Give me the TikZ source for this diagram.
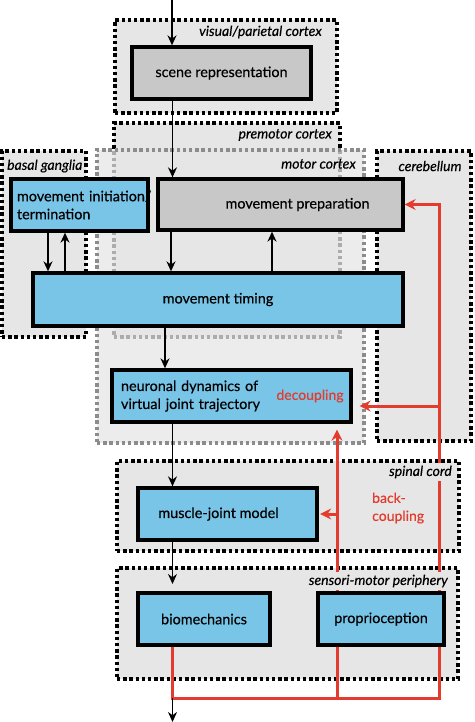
\documentclass[tikz,border=0pt]{standalone}
\usepackage{fontspec}
\setmainfont{Lato}[FakeBold=0.35]
\usetikzlibrary{arrows.meta}
\definecolor{regiongray}{HTML}{E6E6E6}
\definecolor{boxgray}{HTML}{C8C8C8}
\definecolor{boxblue}{HTML}{79C5E7}
\definecolor{fbred}{HTML}{E33B2E}
\definecolor{motorgray}{HTML}{8C8C8C}
\begin{document}
\begin{tikzpicture}[x=1pt,y=-1pt,
  region/.style={draw=black, line width=3.1pt, dash pattern=on 3.4pt off 2.8pt, fill=regiongray, inner sep=0pt},
  box/.style={draw=black, line width=3.3pt, inner sep=0pt, font=\fontsize{14.4}{18}\selectfont},
  bluebox/.style={box, fill=boxblue},
  graybox/.style={box, fill=boxgray},
  lbl/.style={font=\fontsize{14}{16}\selectfont\itshape, inner sep=1pt},
  redtxt/.style={font=\fontsize{14}{18}\selectfont, text=fbred, inner sep=1pt},
  arr/.style={line width=1.5pt, -{Stealth[length=10pt,width=9pt]}},
  fb/.style={draw=fbred, line width=3pt},
  fbarr/.style={fb, -{Stealth[length=11pt,width=11pt]}}]

\useasboundingbox (0,0) rectangle (474,722);

% regions
\node[region, minimum width=222pt, minimum height=93pt] (visual) at (226,66.5) {};
\node[region, minimum width=226pt, minimum height=214pt] (premotor) at (227,230) {};
\node[region, minimum width=84pt, minimum height=186pt] (basal) at (44,244) {};
\node[region, minimum width=94pt, minimum height=290pt] (cereb) at (424,296) {};
\node[region, draw=motorgray, fill opacity=0.75, minimum width=267pt, minimum height=293pt] (motor) at (230.5,296.5) {};
\node[region, minimum width=342pt, minimum height=90pt] (spinal) at (288,506) {};
\node[region, minimum width=341pt, minimum height=111pt] (periph) at (287.5,623.5) {};

% region labels
\node[lbl, anchor=east] (lvis) at (323,32) {visual/parietal cortex};
\node[lbl, anchor=east] (lpre) at (333,135) {premotor cortex};
\node[lbl, anchor=east] (lmot) at (357,164) {motor cortex};
\node[lbl, anchor=west] (lbas) at (6,166) {basal ganglia};
\node[lbl] (lcer) at (430,166) {cerebellum};

% coordinates
\coordinate (in) at (172,0);
\coordinate (xa) at (172.5,0);
\coordinate (xb) at (165,0);
\coordinate (xc) at (171,0);
\coordinate (xd) at (272,0);
\coordinate (xe) at (48,0);
\coordinate (xf) at (65,0);
\coordinate (ca) at (439,204.5);
\coordinate (cn) at (439,406);
\coordinate (cb) at (337,514);
\coordinate (mb) at (172.5,584);
\coordinate (bot) at (172.5,698);
\coordinate (out) at (172.5,722);

% boxes
\tikzset{
  scenebox/.style={graybox, minimum width=179pt, minimum height=52pt},
  initbox/.style={bluebox, minimum height=52pt, text width=125pt, inner xsep=6pt, align=left},
  prepbox/.style={graybox, minimum width=245pt, minimum height=51pt},
  timingbox/.style={bluebox, minimum width=370pt, minimum height=53pt},
  neurobox/.style={bluebox, minimum height=52pt, text width=221pt, inner xsep=9pt, align=left},
  musclebox/.style={bluebox, minimum width=179pt, minimum height=52pt},
  biobox/.style={bluebox, minimum width=132pt, minimum height=52pt},
  propriobox/.style={bluebox, minimum width=126pt, minimum height=52pt}}
\path
  node[scenebox] (scene) at (221.5,73) {}
  node[initbox] (init) at (79.5,205) {}
  node[prepbox] (prep) at (280.5,204.5) {}
  node[timingbox] (timing) at (218,299.5) {}
  node[neurobox] (neuro) at (231.5,396) {}
  node[musclebox] (muscle) at (227.5,514) {}
  node[biobox] (bio) at (204,619) {}
  node[propriobox] (proprio) at (381,619) {};

% red feedback lines
\draw[fbarr] (proprio.north -| ca) -- (ca) -- (prep.east);
\draw[fbarr, shorten >=7pt] (cn) -- (neuro.east |- cn);
\draw[fbarr, shorten >=6pt] (proprio.north -| cb) -- (cb |- neuro.south);
\draw[fbarr, shorten >=1.5pt] (cb) -- (muscle.east);
\draw[fb] (bio.south -| bot) -- (bot) -- (bot -| ca) -- (proprio.south -| ca);
\draw[fb] (proprio.south -| cb) -- (cb |- bot);

% black arrows
\draw[arr] (in) -- (in |- scene.north);
\draw[arr] (scene.south -| xa) -- (prep.north -| xa);
\draw[arr] (init.south -| xe) -- (timing.north -| xe);
\draw[arr] (timing.north -| xf) -- (init.south -| xf);
\draw[arr] (prep.south -| xc) -- (timing.north -| xc);
\draw[arr] (timing.north -| xd) -- (prep.south -| xd);
\draw[arr] (timing.south -| xb) -- (neuro.north -| xb);
\draw[arr] (neuro.south -| xa) -- (muscle.north -| xa);
\draw[arr] (muscle.south -| xa) -- (mb);
\draw[arr] (bot) -- (out);

% boxes drawn on top with their texts
\path
  node[scenebox] (sceneT) at (scene) {scene representation}
  node[initbox] (initT) at (init) {\mbox{movement initiation/}\\termination}
  node[prepbox] (prepT) at (prep) {\hspace*{34pt}movement preparation}
  node[timingbox] (timingT) at (timing) {movement timing}
  node[neurobox] (neuroT) at (neuro) {neuronal dynamics of\\virtual joint trajectory}
  node[musclebox] (muscleT) at (muscle) {muscle-joint model\hspace*{18pt}}
  node[biobox] (bioT) at (bio) {biomechanics}
  node[propriobox] (proprioT) at (proprio) {proprioception};

% labels covering red lines
\node[lbl, anchor=east, fill=regiongray, inner ysep=3pt] (lspi) at (453,472) {spinal cord};
\node[lbl, anchor=east, fill=regiongray, inner ysep=3pt] (lper) at (449,581) {sensori-motor periphery};

% red texts
\node[redtxt] (dec) at (310,396) {decoupling};
\node[redtxt, anchor=west, align=left] (back) at (371,508) {back-\\coupling};
\end{tikzpicture}
\end{document}
